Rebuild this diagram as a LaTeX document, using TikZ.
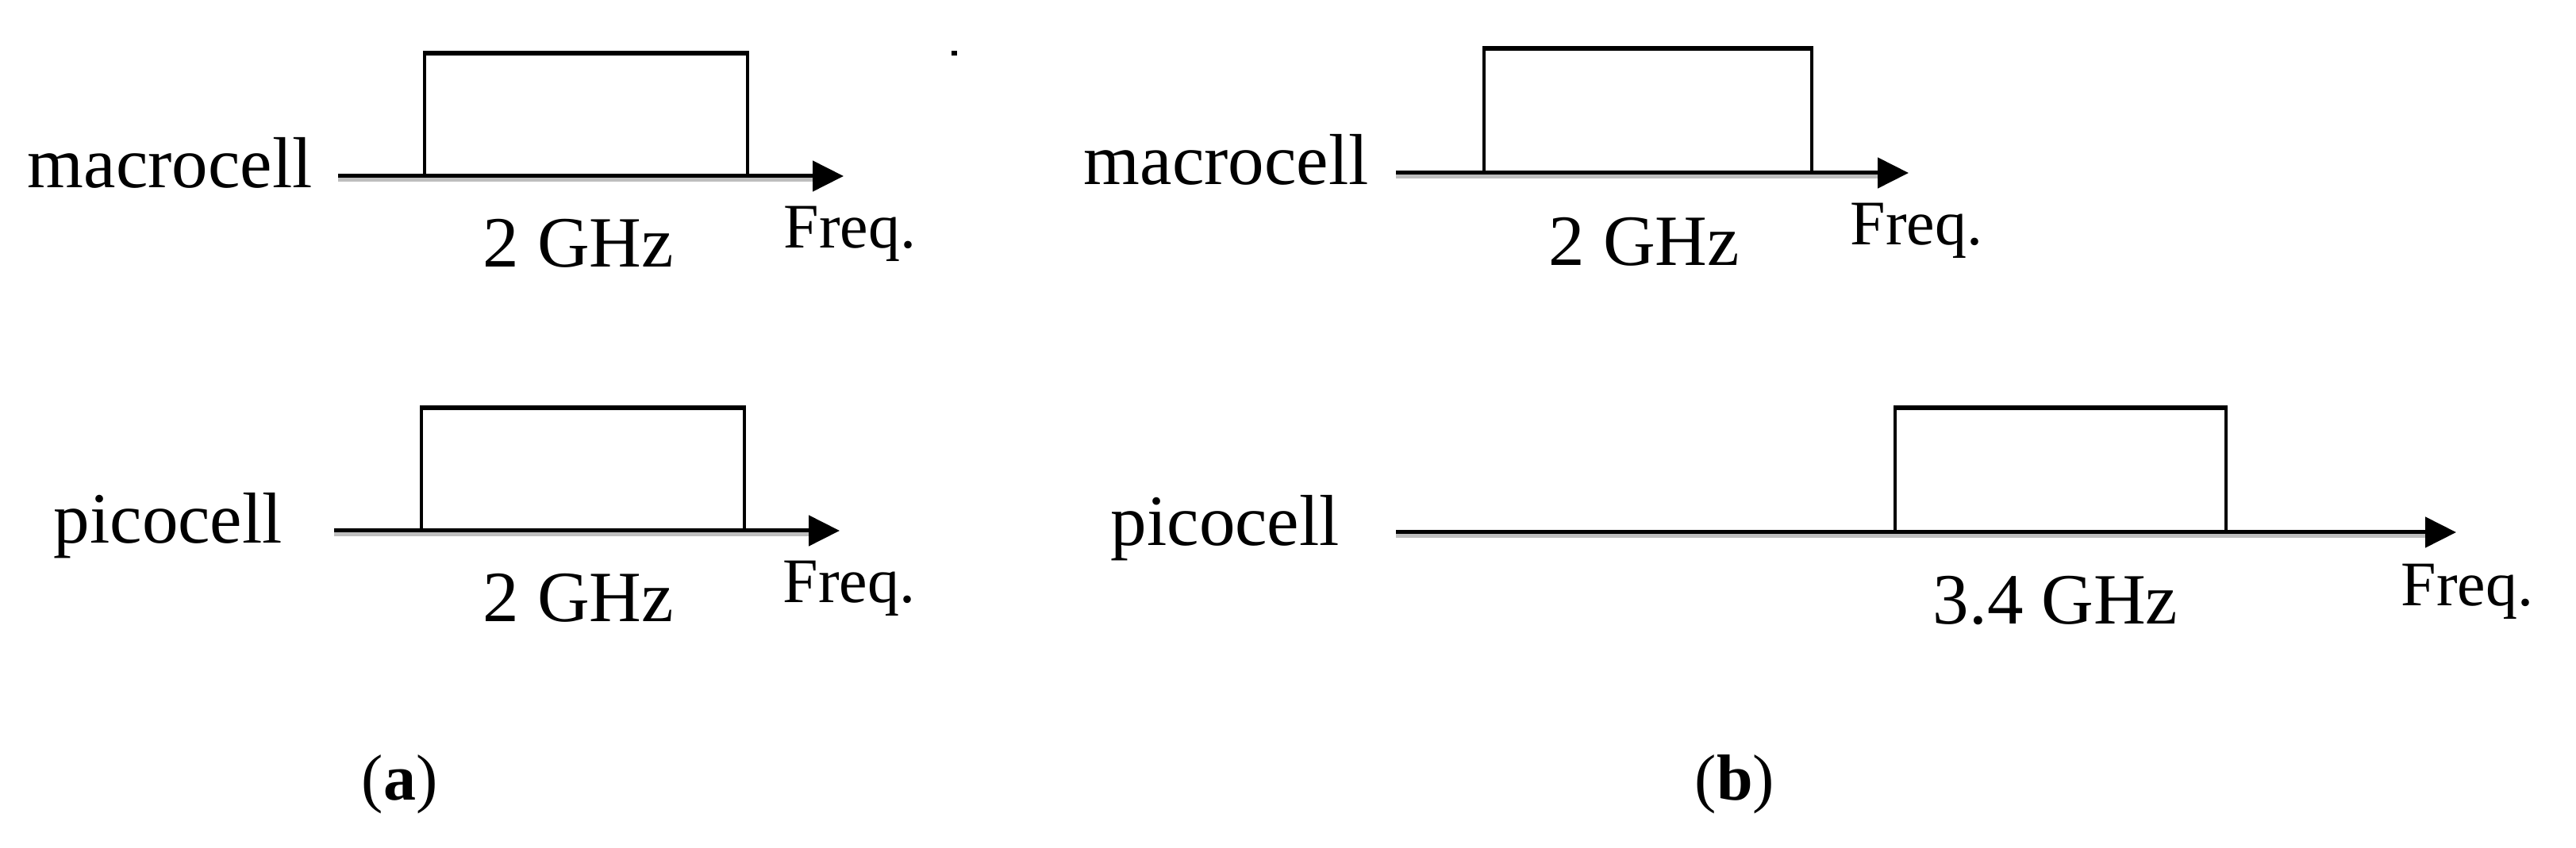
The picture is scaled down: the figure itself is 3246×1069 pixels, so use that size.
\documentclass[tikz,border=0pt]{standalone}
\usepackage{fontspec}
\setmainfont{Liberation Serif}
\usetikzlibrary{arrows.meta}
\definecolor{shadegrey}{RGB}{190,190,190}
\tikzset{
  lbl/.style={anchor=base west,inner sep=0pt,font=\fontsize{22.75}{27}\selectfont},
  frq/.style={anchor=base west,inner sep=0pt,font=\fontsize{20}{24}\selectfont},
  subcap/.style={anchor=base west,inner sep=0pt,font=\fontsize{20.5}{25}\selectfont},
  freqaxis/.style={line width=1.25pt,-{Triangle[length=9.75pt,width=9.5pt]}},
  axshade/.style={line width=1.25pt,draw=shadegrey},
  bandside/.style={line width=1.05pt},
  bandtop/.style={line width=1.35pt},
}
\begin{document}
\begin{tikzpicture}[x=0.25pt,y=-0.25pt]
\useasboundingbox (0,0) rectangle (3246,1069);
% ---------- (a) top ----------
\coordinate (a1s) at (426,222);
\coordinate (a1e) at (1063,222);
\draw[axshade] (426,227) -- (1026,227);
\draw[freqaxis] (a1s) -- (a1e);
\draw[bandside] (535,222) -- (535,67);
\draw[bandside] (942,67) -- (942,222);
\draw[bandtop] (533,67) -- (944,67);
\node[lbl] (a1l) at (34,237) {macrocell};
\node[lbl] (a1f) at (608,337) {2 GHz};
\node[frq] (a1q) at (987,313) {Freq.};
% ---------- (a) bottom ----------
\coordinate (a2s) at (421,669);
\coordinate (a2e) at (1058,669);
\draw[axshade] (421,674) -- (1021,674);
\draw[freqaxis] (a2s) -- (a2e);
\draw[bandside] (531,669) -- (531,514);
\draw[bandside] (938,514) -- (938,669);
\draw[bandtop] (529,514) -- (940,514);
\node[lbl] (a2l) at (67,685) {picocell};
\node[lbl] (a2f) at (608,784) {2 GHz};
\node[frq] (a2q) at (986,759) {Freq.};
% ---------- (b) top ----------
\coordinate (b1s) at (1759,218);
\coordinate (b1e) at (2405,218);
\draw[axshade] (1759,223) -- (2368,223);
\draw[freqaxis] (b1s) -- (b1e);
\draw[bandside] (1870,218) -- (1870,61);
\draw[bandside] (2283,61) -- (2283,218);
\draw[bandtop] (1868,61) -- (2285,61);
\node[lbl] (b1l) at (1365,233) {macrocell};
\node[lbl] (b1f) at (1951,335) {2 GHz};
\node[frq] (b1q) at (2331,309) {Freq.};
% ---------- (b) bottom ----------
\coordinate (b2s) at (1759,671);
\coordinate (b2e) at (3095,671);
\draw[axshade] (1759,676) -- (3058,676);
\draw[freqaxis] (b2s) -- (b2e);
\draw[bandside] (2388,671) -- (2388,514);
\draw[bandside] (2805,514) -- (2805,671);
\draw[bandtop] (2386,514) -- (2807,514);
\node[lbl] (b2l) at (1399,687) {picocell};
\node[lbl] (b2f) at (2435,787) {3.4 GHz};
\node[frq] (b2q) at (3025,763) {Freq.};
% ---------- captions ----------
\node[subcap] (capa) at (455,1008) {(\textbf{a})};
\node[subcap] (capb) at (2135,1008) {(\textbf{b})};
% stray dot
\fill (1199,64) rectangle (1206,70);
\end{tikzpicture}
\end{document}
